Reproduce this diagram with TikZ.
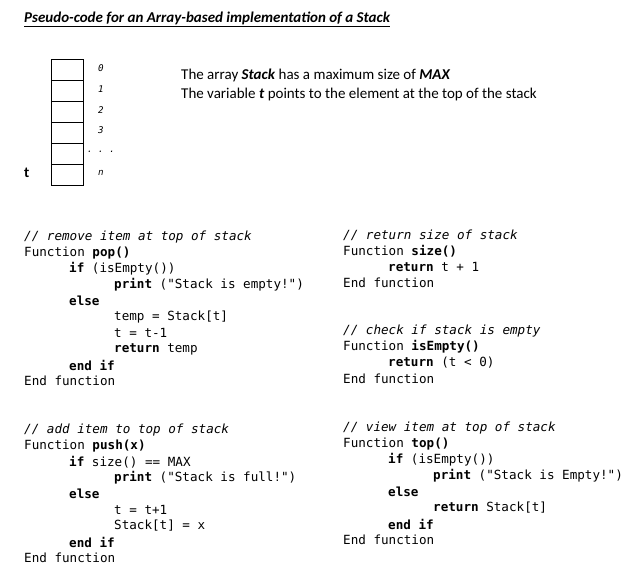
\documentclass[tikz,border=0pt]{standalone}
\usepackage{fontspec}
\setmainfont{Carlito}
\setmonofont{DejaVu Sans Mono}[Scale=0.92]
\begin{document}
\begin{tikzpicture}[x=1pt,y=-1pt,
  code/.style={anchor=west,inner sep=0pt,font=\ttfamily\fontsize{13.7}{14}\selectfont},
  cmt/.style={code,font=\ttfamily\itshape\fontsize{13.7}{14}\selectfont},
  idx/.style={anchor=center,inner sep=0pt,font=\ttfamily\itshape\fontsize{10}{11}\selectfont},
  txt/.style={anchor=west,inner sep=0pt,font=\fontsize{15}{16}\selectfont}]
\useasboundingbox (0,0) rectangle (640,573);
\node[txt,anchor=base west] (title) at (24,22) {\textbf{\textit{\underline{Pseudo-code for an Array-based implementation of a Stack}}}};
\foreach \i/\y in {0/59,1/80,2/101,3/122,4/143,5/164}{
  \draw[line width=0.6pt] (51,\y) rectangle (83,\y+21);}
\node[idx] (i0) at (101,68) {0};
\node[idx] (i1) at (101,89) {1};
\node[idx] (i2) at (101,110) {2};
\node[idx] (i3) at (101,130) {3};
\node[idx] (idots) at (101,152) {. . .};
\node[idx] (in) at (101,173) {n};
\node[txt,font=\bfseries\fontsize{15}{16}\selectfont] (t) at (24,173) {t};
\node[txt] (d1) at (181,75) {The array \textbf{\textit{Stack}} has a maximum size of \textbf{\textit{MAX}}};
\node[txt] (d2) at (181,94) {The variable \textbf{\textit{t}} points to the element at the top of the stack};
% pop
\node[cmt] (p0) at (24,237) {// remove item at top of stack};
\node[code] (p1) at (24,253) {Function \textbf{pop()}};
\node[code] (p2) at (69,269) {\textbf{if} (isEmpty())};
\node[code] (p3) at (114,285) {\textbf{print} ("Stack is empty!")};
\node[code] (p4) at (69,301) {\textbf{else}};
\node[code] (p5) at (114,317) {temp = Stack[t]};
\node[code] (p6) at (114,333) {t = t-1};
\node[code] (p7) at (114,349) {\textbf{return} temp};
\node[code] (p8) at (69,365) {\textbf{end if}};
\node[code] (p9) at (24,381) {End function};
% size
\node[cmt] (s0) at (343,235) {// return size of stack};
\node[code] (s1) at (343,251) {Function \textbf{size()}};
\node[code] (s2) at (388,267) {\textbf{return} t + 1};
\node[code] (s3) at (343,283) {End function};
% isEmpty
\node[cmt] (e0) at (343,331) {// check if stack is empty};
\node[code] (e1) at (343,347) {Function \textbf{isEmpty()}};
\node[code] (e2) at (388,363) {\textbf{return} (t < 0)};
\node[code] (e3) at (343,379) {End function};
% push
\node[cmt] (u0) at (24,430) {// add item to top of stack};
\node[code] (u1) at (24,446) {Function \textbf{push(x)}};
\node[code] (u2) at (69,462) {\textbf{if} size() == MAX};
\node[code] (u3) at (114,478) {\textbf{print} ("Stack is full!")};
\node[code] (u4) at (69,494) {\textbf{else}};
\node[code] (u5) at (114,510) {t = t+1};
\node[code] (u6) at (114,526) {Stack[t] = x};
\node[code] (u7) at (69,542) {\textbf{end if}};
\node[code] (u8) at (24,558) {End function};
% top
\node[cmt] (o0) at (343,428) {// view item at top of stack};
\node[code] (o1) at (343,444) {Function \textbf{top()}};
\node[code] (o2) at (388,460) {\textbf{if} (isEmpty())};
\node[code] (o3) at (433,476) {\textbf{print} ("Stack is Empty!")};
\node[code] (o4) at (388,492) {\textbf{else}};
\node[code] (o5) at (433,508) {\textbf{return} Stack[t]};
\node[code] (o6) at (388,524) {\textbf{end if}};
\node[code] (o7) at (343,540) {End function};
\end{tikzpicture}
\end{document}
